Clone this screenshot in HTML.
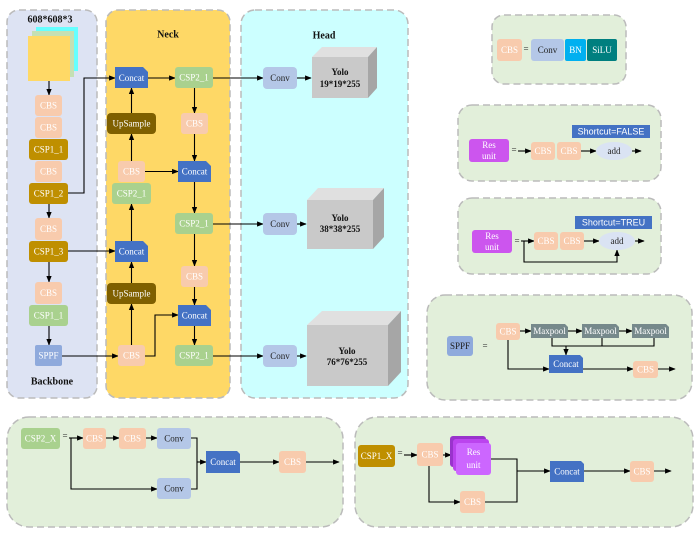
<!DOCTYPE html>
<html><head><meta charset="utf-8"><style>
body{margin:0;background:#fff}
svg{display:block}
text{font-family:"Liberation Serif",serif;font-size:9px;text-anchor:middle;dominant-baseline:central}
.w{fill:#fff}
.b{font-weight:bold;fill:#111}
.k{fill:#222}
.p{stroke:#bbb;stroke-width:1.5;stroke-dasharray:7 4}
.l{stroke:#000;stroke-width:1.1;fill:none;marker-end:url(#a)}
.n{stroke:#000;stroke-width:1.1;fill:none}
</style></head><body>
<svg width="700" height="534" viewBox="0 0 700 534" xmlns="http://www.w3.org/2000/svg">
<defs><marker id="a" viewBox="0 0 10 10" refX="9" refY="5" markerWidth="6" markerHeight="6" orient="auto"><path d="M0,1 L10,5 L0,9 z" fill="#000"/></marker></defs>

<!-- panels -->
<rect class="p" x="7" y="10" width="90" height="388" rx="12" fill="#dde3f3"/>
<rect class="p" x="106" y="10" width="124" height="388" rx="12" fill="#fed866"/>
<rect class="p" x="241" y="10" width="167" height="388" rx="14" fill="#ccffff"/>
<rect class="p" x="492" y="15" width="134" height="69" rx="12" fill="#e2efda"/>
<rect class="p" x="458" y="105" width="203" height="76" rx="14" fill="#e2efda"/>
<rect class="p" x="458" y="198" width="203" height="76" rx="14" fill="#e2efda"/>
<rect class="p" x="427" y="295" width="265" height="105" rx="18" fill="#e2efda"/>
<rect class="p" x="7" y="417" width="336" height="110" rx="22" fill="#e2efda"/>
<rect class="p" x="355" y="417" width="338" height="110" rx="22" fill="#e2efda"/>

<!-- Backbone -->
<text class="b" x="50" y="20" style="font-size:10px">608*608*3</text>
<rect x="36" y="27" width="42" height="44" fill="#66ffff"/>
<rect x="32" y="31" width="42" height="46" fill="#c5e0b4"/>
<rect x="28" y="36" width="42" height="45" fill="#ffd966"/>
<path class="l" d="M49,81 V95"/>
<rect x="35" y="95" width="27" height="21" rx="3" fill="#f8cbad"/><text class="w" x="48.5" y="105.5">CBS</text>
<rect x="35" y="117" width="27" height="21" rx="3" fill="#f8cbad"/><text class="w" x="48.5" y="127.5">CBS</text>
<rect x="29" y="139" width="39" height="21" rx="3" fill="#bf8f00"/><text class="w" x="48.5" y="149.5">CSP1_1</text>
<rect x="35" y="161" width="27" height="21" rx="3" fill="#f8cbad"/><text class="w" x="48.5" y="171.5">CBS</text>
<rect x="29" y="183" width="39" height="21" rx="3" fill="#bf8f00"/><text class="w" x="48.5" y="193.5">CSP1_2</text>
<path class="l" d="M49,204 V218"/>
<rect x="35" y="218" width="27" height="22" rx="3" fill="#f8cbad"/><text class="w" x="48.5" y="229">CBS</text>
<rect x="29" y="241" width="39" height="21" rx="3" fill="#bf8f00"/><text class="w" x="48.5" y="251.5">CSP1_3</text>
<path class="l" d="M49,262 V282"/>
<rect x="35" y="282" width="27" height="22" rx="3" fill="#f8cbad"/><text class="w" x="48.5" y="293">CBS</text>
<rect x="29" y="305" width="39" height="21" rx="3" fill="#a9d18e"/><text class="w" x="48.5" y="315.5">CSP1_1</text>
<path class="l" d="M49,326 V345"/>
<rect x="35" y="345" width="27" height="21" rx="2" fill="#8faadc"/><text class="w" x="48.5" y="355.5">SPPF</text>
<text class="b" x="52" y="382" style="font-size:10px">Backbone</text>

<!-- Neck -->
<text class="b" x="168" y="35" style="font-size:10px">Neck</text>
<path class="l" d="M68,193 H84 V78 H115"/>
<path class="l" d="M68,251 H115"/>
<path class="l" d="M62,356 H118"/>
<path class="l" d="M145,356 H155 V315 H178"/>
<path class="l" d="M131.5,345 V304"/>
<path class="l" d="M131.5,283 V262"/>
<path class="l" d="M131.5,241 V204"/>
<path class="l" d="M131.5,161 V134"/>
<path class="l" d="M131.5,113 V88"/>
<path class="l" d="M145,171.5 H178"/>
<path class="l" d="M148,78 H175"/>
<path class="l" d="M194.5,88 V113"/>
<path class="l" d="M194.5,134 V161"/>
<path class="l" d="M194.5,182 V213"/>
<path class="l" d="M194.5,234 V266"/>
<path class="l" d="M194.5,287 V305"/>
<path class="l" d="M194.5,326 V345"/>
<polygon points="115,67 143,67 148,72 148,88 115,88" fill="#4472c4"/><text class="w" x="131.5" y="78">Concat</text>
<rect x="175" y="67" width="38" height="21" rx="3" fill="#a9d18e"/><text class="w" x="194" y="77.5">CSP2_1</text>
<rect x="107" y="113" width="49" height="21" rx="4" fill="#7f6000"/><text class="w" x="131.5" y="123.5">UpSample</text>
<rect x="118" y="161" width="27" height="21" rx="3" fill="#f8cbad"/><text class="w" x="131.5" y="171.5">CBS</text>
<rect x="112" y="183" width="39" height="21" rx="3" fill="#a9d18e"/><text class="w" x="131.5" y="193.5">CSP2_1</text>
<polygon points="115,241 143,241 148,246 148,262 115,262" fill="#4472c4"/><text class="w" x="131.5" y="251.5">Concat</text>
<rect x="107" y="283" width="49" height="21" rx="4" fill="#7f6000"/><text class="w" x="131.5" y="293.5">UpSample</text>
<rect x="118" y="345" width="27" height="21" rx="3" fill="#f8cbad"/><text class="w" x="131.5" y="355.5">CBS</text>
<rect x="181" y="113" width="27" height="21" rx="3" fill="#f8cbad"/><text class="w" x="194.5" y="123.5">CBS</text>
<polygon points="178,161 206,161 211,166 211,182 178,182" fill="#4472c4"/><text class="w" x="194.5" y="171.5">Concat</text>
<rect x="175" y="213" width="38" height="21" rx="3" fill="#a9d18e"/><text class="w" x="194" y="223.5">CSP2_1</text>
<rect x="181" y="266" width="27" height="21" rx="3" fill="#f8cbad"/><text class="w" x="194.5" y="276.5">CBS</text>
<polygon points="178,305 206,305 211,310 211,326 178,326" fill="#4472c4"/><text class="w" x="194.5" y="315.5">Concat</text>
<rect x="175" y="345" width="38" height="21" rx="3" fill="#a9d18e"/><text class="w" x="194" y="355.5">CSP2_1</text>

<!-- Head -->
<text class="b" x="324" y="36" style="font-size:10px">Head</text>
<path class="l" d="M213,78 H263"/><path class="l" d="M297,78 H311"/>
<path class="l" d="M213,224 H263"/><path class="l" d="M297,224 H306"/>
<path class="l" d="M213,356 H263"/><path class="l" d="M297,356 H306"/>
<rect x="263" y="67" width="34" height="22" rx="4" fill="#b4c7e7"/><text class="k" x="280" y="78">Conv</text>
<rect x="263" y="213" width="34" height="22" rx="4" fill="#b4c7e7"/><text class="k" x="280" y="224">Conv</text>
<rect x="263" y="345" width="34" height="22" rx="4" fill="#b4c7e7"/><text class="k" x="280" y="356">Conv</text>
<polygon points="312,57 322,47 377,47 368,57" fill="#e0e0e0"/><polygon points="368,57 377,47 377,88 368,98" fill="#a6a6a6"/><rect x="312" y="57" width="56" height="41" fill="#c9c9c9"/>
<text class="b" x="340" y="72">Yolo</text><text class="b" x="340" y="84">19*19*255</text>
<polygon points="307,200 318,188 384,188 373,200" fill="#e0e0e0"/><polygon points="373,200 384,188 384,237 373,249" fill="#a6a6a6"/><rect x="307" y="200" width="66" height="49" fill="#c9c9c9"/>
<text class="b" x="340" y="218">Yolo</text><text class="b" x="340" y="229">38*38*255</text>
<polygon points="307,325 322,311 401,311 388,325" fill="#e0e0e0"/><polygon points="388,325 401,311 401,372 388,386" fill="#a6a6a6"/><rect x="307" y="325" width="81" height="61" fill="#c9c9c9"/>
<text class="b" x="347" y="351">Yolo</text><text class="b" x="347" y="362">76*76*255</text>

<!-- CBS def -->
<rect x="497" y="39" width="25" height="22" rx="3" fill="#f8cbad"/><text class="w" x="509.5" y="50">CBS</text>
<text class="k" x="526" y="49">=</text>
<rect x="531" y="39" width="33" height="22" rx="3" fill="#b4c7e7"/><text class="k" x="547.5" y="50">Conv</text>
<rect x="565" y="39" width="21" height="22" rx="2" fill="#00b0f0"/><text class="w" x="575.5" y="50">BN</text>
<rect x="587" y="39" width="30" height="22" rx="2" fill="#007f7f"/><text class="w" x="602" y="50">SiLU</text>

<!-- Res unit FALSE -->
<rect x="572" y="125" width="78" height="13" fill="#4472c4"/><text class="w" x="611" y="131.5" style="font-family:'Liberation Sans',sans-serif">Shortcut=FALSE</text>
<rect x="469" y="139" width="40" height="23" rx="3" fill="#cc55ee"/><text class="w" x="489" y="145">Res</text><text class="w" x="489" y="156">unit</text>
<text class="k" x="514" y="150">=</text>
<path class="l" d="M518,151 H531"/><path class="l" d="M581,151 H596"/><path class="l" d="M632,151 H641"/>
<rect x="531" y="142" width="24" height="18" rx="3" fill="#f8cbad"/><text class="w" x="543" y="151">CBS</text>
<rect x="557" y="142" width="24" height="18" rx="3" fill="#f8cbad"/><text class="w" x="569" y="151">CBS</text>
<ellipse cx="614" cy="151" rx="18" ry="9" fill="#dae3f3"/><text class="k" x="614" y="151">add</text>

<!-- Res unit TRUE -->
<rect x="575" y="216" width="77" height="13" fill="#4472c4"/><text class="w" x="613.5" y="222.5" style="font-family:'Liberation Sans',sans-serif">Shortcut=TREU</text>
<rect x="472" y="230" width="40" height="23" rx="3" fill="#cc55ee"/><text class="w" x="492" y="236">Res</text><text class="w" x="492" y="247">unit</text>
<text class="k" x="517" y="241">=</text>
<path class="l" d="M521,241 H534"/><path class="l" d="M584,241 H599"/><path class="l" d="M635,241 H644"/>
<path class="l" d="M524,241 V262 H617 V250"/>
<rect x="534" y="232" width="24" height="18" rx="3" fill="#f8cbad"/><text class="w" x="546" y="241">CBS</text>
<rect x="560" y="232" width="24" height="18" rx="3" fill="#f8cbad"/><text class="w" x="572" y="241">CBS</text>
<ellipse cx="617" cy="241" rx="18" ry="9" fill="#dae3f3"/><text class="k" x="617" y="241">add</text>

<!-- SPPF def -->
<rect x="447" y="336" width="26" height="20" rx="3" fill="#8faadc"/><text class="k" x="460" y="346">SPPF</text>
<text class="k" x="485" y="346">=</text>
<rect x="496" y="323" width="24" height="17" rx="3" fill="#f8cbad"/><text class="w" x="508" y="331.5">CBS</text>
<path class="l" d="M520,331 H531"/><path class="l" d="M568,331 H582"/><path class="l" d="M619,331 H632"/>
<polygon points="531,324 565,324 568,327 568,338 531,338" fill="#76898b"/><text class="w" x="549.5" y="331">Maxpool</text>
<polygon points="582,324 616,324 619,327 619,338 582,338" fill="#76898b"/><text class="w" x="600.5" y="331">Maxpool</text>
<polygon points="632,324 666,324 669,327 669,338 632,338" fill="#76898b"/><text class="w" x="650.5" y="331">Maxpool</text>
<path class="n" d="M552,338 V346 H654 V338"/><path class="n" d="M602,338 V346"/><path class="l" d="M566,346 V355"/>
<path class="l" d="M508,340 V369 H549"/>
<path class="l" d="M583,369 H633"/><path class="l" d="M658,369 H675"/>
<polygon points="549,355 580,355 583,358 583,373 549,373" fill="#4472c4"/><text class="w" x="566" y="364">Concat</text>
<rect x="633" y="361" width="25" height="17" rx="3" fill="#f8cbad"/><text class="w" x="645.5" y="369.5">CBS</text>

<!-- CSP2_X -->
<rect x="21" y="428" width="39" height="21" rx="3" fill="#a9d18e"/><text class="w" x="40.5" y="438.5">CSP2_X</text>
<text class="k" x="65" y="436">=</text>
<path class="l" d="M69,438 H83"/><path class="l" d="M106,438 H119"/><path class="l" d="M146,438 H157"/>
<path class="l" d="M71,438 V489 H157"/>
<path class="n" d="M191,438 H197 V489 H191"/><path class="l" d="M197,462 H206"/>
<path class="l" d="M240,462 H279"/><path class="l" d="M306,462 H339"/>
<rect x="83" y="428" width="23" height="21" rx="3" fill="#f8cbad"/><text class="w" x="94.5" y="438.5">CBS</text>
<rect x="119" y="428" width="27" height="21" rx="3" fill="#f8cbad"/><text class="w" x="132.5" y="438.5">CBS</text>
<rect x="157" y="428" width="34" height="21" rx="3" fill="#b4c7e7"/><text class="k" x="174" y="438.5">Conv</text>
<rect x="157" y="478" width="34" height="21" rx="3" fill="#b4c7e7"/><text class="k" x="174" y="488.5">Conv</text>
<polygon points="206,451 237,451 240,454 240,473 206,473" fill="#4472c4"/><text class="w" x="223" y="462">Concat</text>
<rect x="279" y="451" width="27" height="22" rx="3" fill="#f8cbad"/><text class="w" x="292.5" y="462">CBS</text>

<!-- CSP1_X -->
<rect x="358" y="445" width="37" height="22" rx="3" fill="#bf8f00"/><text class="w" x="376.5" y="456">CSP1_X</text>
<text class="k" x="400" y="453">=</text>
<path class="l" d="M404,455 H417"/><path class="l" d="M443,455 H451"/>
<path class="l" d="M429,466 V502 H460"/>
<path class="n" d="M491,459 H517 V502 H485"/><path class="l" d="M517,471 H550"/>
<path class="l" d="M584,471 H630"/><path class="l" d="M654,471 H671"/>
<rect x="417" y="443" width="26" height="23" rx="3" fill="#f8cbad"/><text class="w" x="430" y="454.5">CBS</text>
<rect x="450" y="436" width="36" height="31" rx="3" fill="#9933cc"/>
<rect x="453" y="439" width="36" height="32" rx="3" fill="#bb44ee"/>
<rect x="456" y="443" width="35" height="32" rx="3" fill="#cc66ff"/><text class="w" x="473.5" y="452">Res</text><text class="w" x="473.5" y="465">unit</text>
<rect x="460" y="491" width="25" height="22" rx="3" fill="#f8cbad"/><text class="w" x="472.5" y="502">CBS</text>
<polygon points="550,461 581,461 584,464 584,482 550,482" fill="#4472c4"/><text class="w" x="567" y="471.5">Concat</text>
<rect x="630" y="461" width="24" height="21" rx="3" fill="#f8cbad"/><text class="w" x="642" y="471.5">CBS</text>
</svg>
</body></html>
